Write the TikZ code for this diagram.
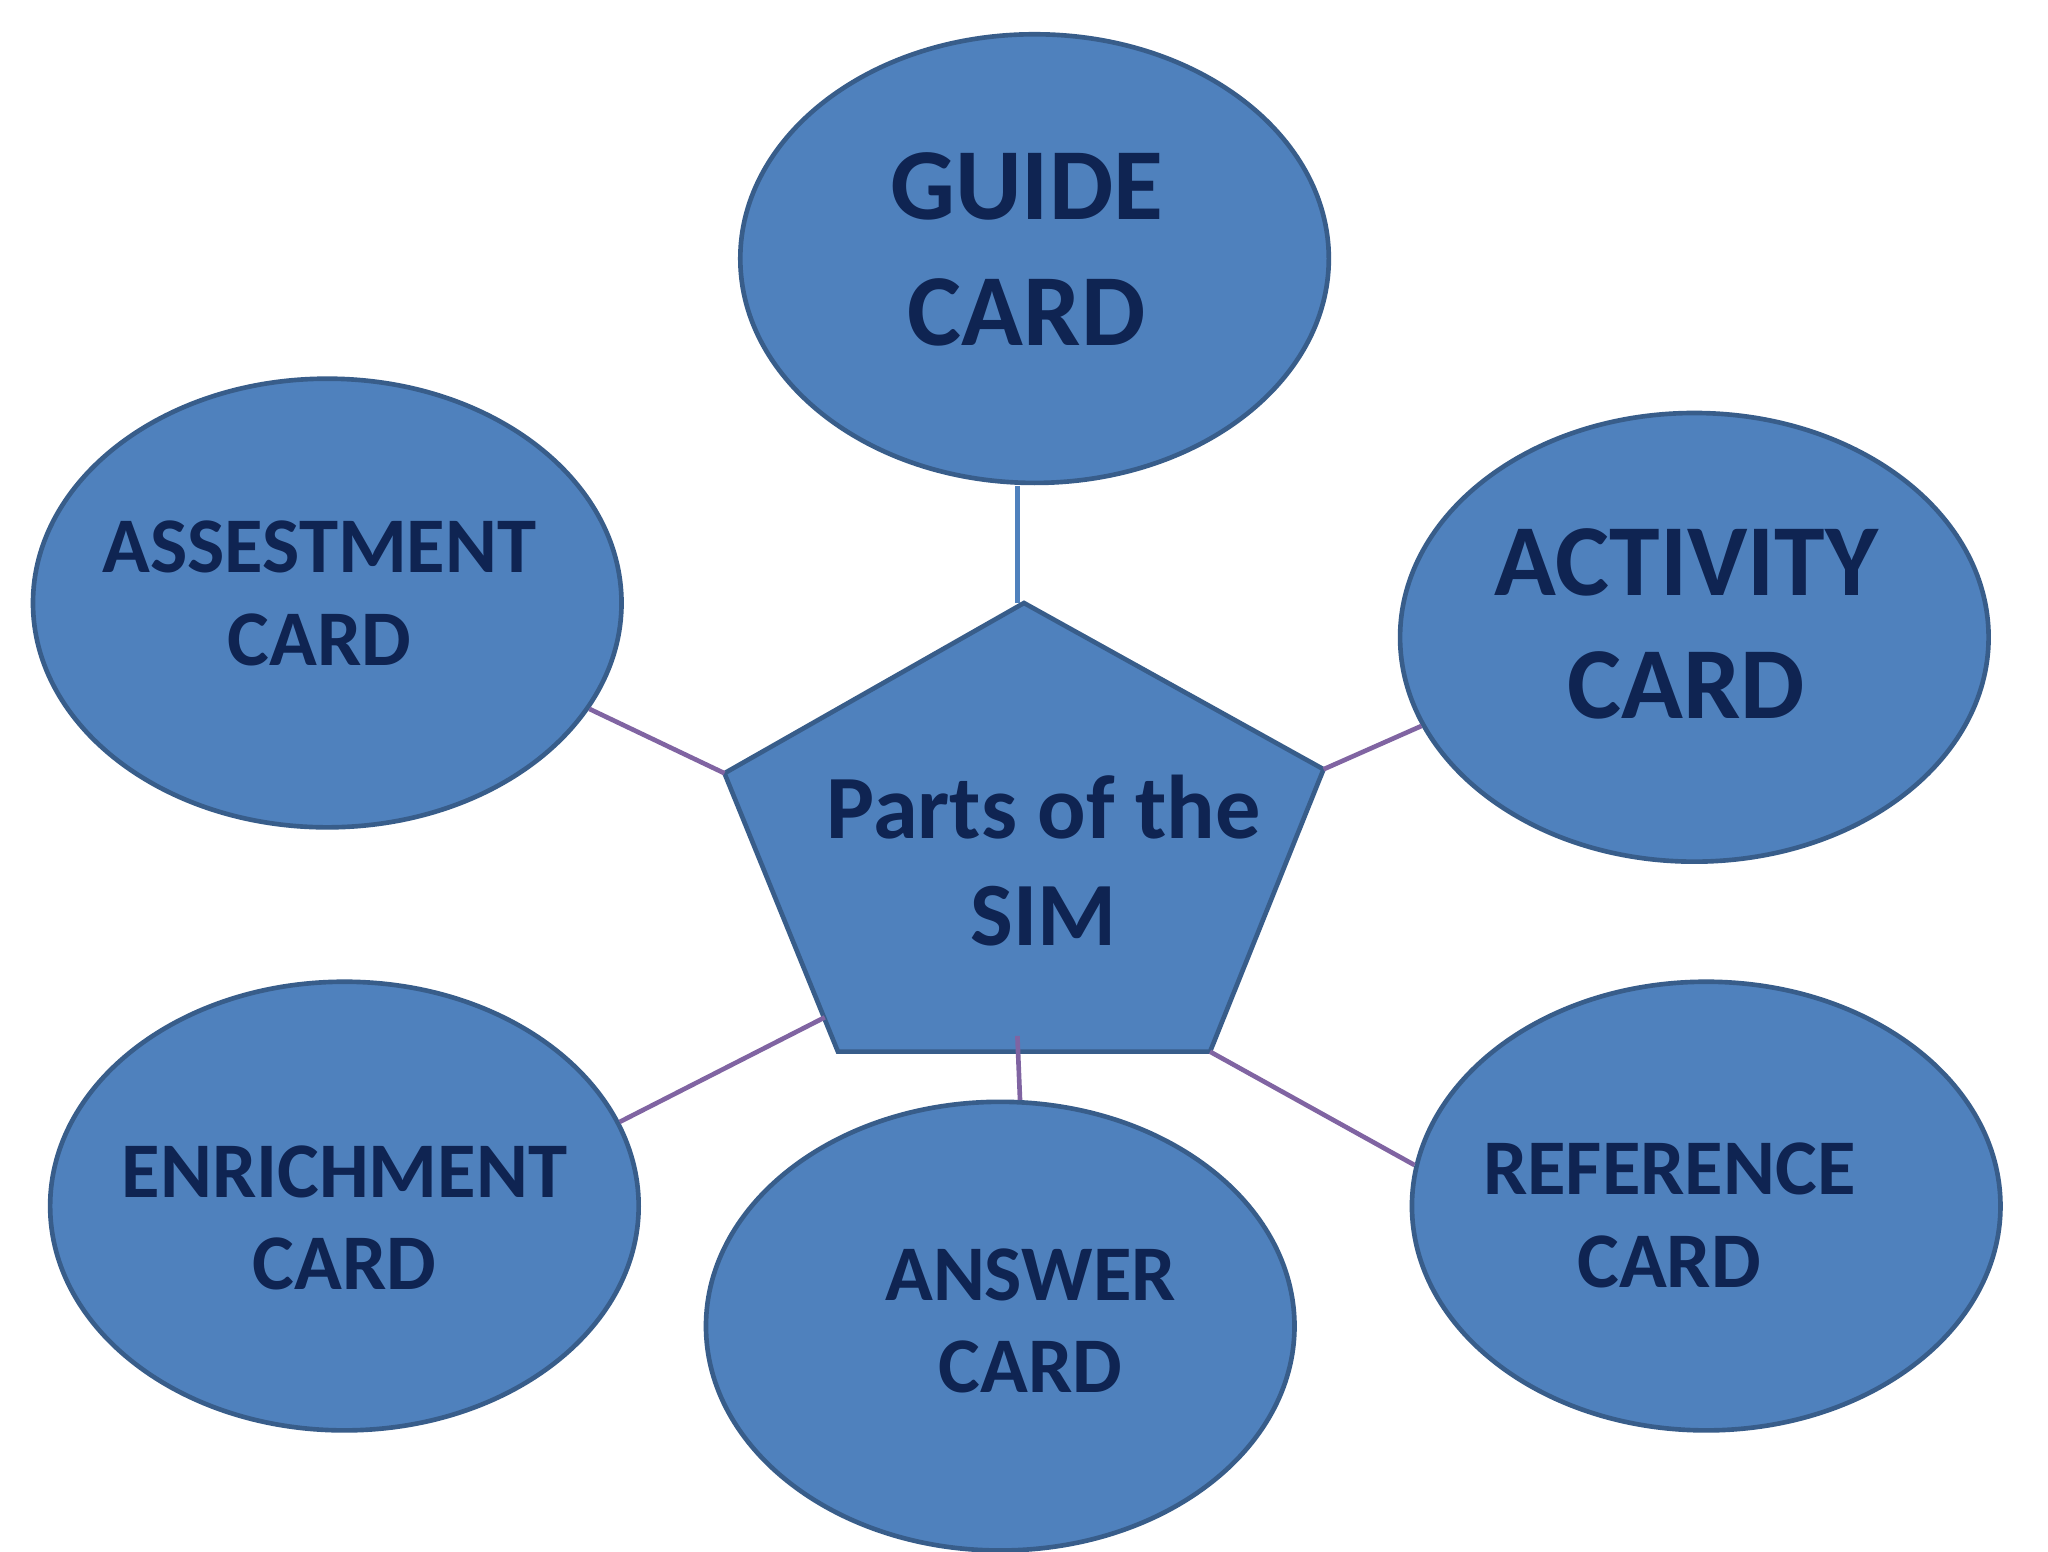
\documentclass[tikz,border=0pt]{standalone}
\usepackage{fontspec}
\setmainfont{Carlito}
\usetikzlibrary{shapes.geometric}
\definecolor{cardfill}{RGB}{79,129,189}
\definecolor{cardline}{RGB}{56,93,138}
\definecolor{cardtext}{RGB}{15,36,82}
\definecolor{linkpurple}{RGB}{128,100,162}
\tikzset{
  card/.style={ellipse, draw=cardline, line width=1pt, fill=cardfill,
    minimum width=4.46cm, minimum height=3.4cm, inner sep=0pt},
  cardtxt/.style={text=cardtext, align=center},
  link/.style={draw=linkpurple, line width=1pt}
}
\begin{document}
\begin{tikzpicture}
  \useasboundingbox[fill=white] (0,0) rectangle (15.52,11.76);
  % cards
  \node[card] (guide) at (7.84,9.80) {};
  \node[card] (assess) at (2.48,7.19) {};
  \node[card] (activity) at (12.84,6.93) {};
  \node[card] (enrich) at (2.61,2.62) {};
  \node[card] (answer) at (7.58,1.71) {};
  \node[card] (reference) at (12.93,2.62) {};
  \node[cardtxt, font=\bfseries\fontsize{22}{27}\selectfont] (guidetxt) at (7.78,9.87) {GUIDE\\CARD};
  \node[cardtxt, font=\bfseries\fontsize{17}{20}\selectfont] (assesstxt) at (2.42,7.26) {ASSESTMENT\\CARD};
  \node[cardtxt, font=\bfseries\fontsize{22}{26.5}\selectfont] (activitytxt) at (12.78,7.03) {ACTIVITY\\CARD};
  \node[cardtxt, font=\bfseries\fontsize{17}{20}\selectfont] (enrichtxt) at (2.61,2.53) {ENRICHMENT\\CARD};
  \node[cardtxt, font=\bfseries\fontsize{17}{20}\selectfont] (answertxt) at (7.81,1.75) {ANSWER\\CARD};
  \node[cardtxt, font=\bfseries\fontsize{17}{20}\selectfont] (referencetxt) at (12.65,2.55) {REFERENCE\\CARD};
  % pentagon
  \coordinate (ptop) at (7.76,7.19);
  \coordinate (pleft) at (5.49,5.90);
  \coordinate (pright) at (10.03,5.93);
  \coordinate (pbl) at (6.35,3.79);
  \coordinate (pbr) at (9.17,3.79);
  \draw[draw=cardline, line width=1pt, fill=cardfill] (ptop) -- (pright) -- (pbr) -- (pbl) -- (pleft) -- cycle;
  \node[cardtxt, font=\bfseries\fontsize{19.5}{23}\selectfont] (sim) at (7.91,5.24) {Parts of the\\SIM};
  % links
  \coordinate (penl) at (6.25,4.05);
  \coordinate (pans) at (7.71,3.91);
  \draw[draw=cardfill, line width=1.2pt] (7.71,8.08) -- (7.71,7.19);
  \draw[link] (assess.-22) -- (pleft);
  \draw[link] (activity.198.6) -- (pright);
  \draw[link] (enrich.17) -- (penl);
  \draw[link] (answer.85.6) -- (pans);
  \draw[link] (reference.172) -- (pbr);
\end{tikzpicture}
\end{document}
